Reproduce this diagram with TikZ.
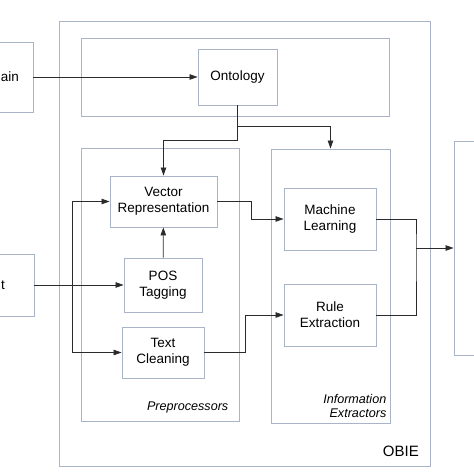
\documentclass[tikz,border=0pt]{standalone}
\usepackage{fontspec}
\setsansfont{Liberation Sans}
\usepackage{tikz}
\usetikzlibrary{arrows.meta,calc,positioning}
\definecolor{ObieFrame}{HTML}{A9B5C6}
\definecolor{ObieWire}{HTML}{2B2B2B}

\begin{document}
\begin{tikzpicture}[x=1pt,y=-1pt,
    unit/.style={draw=ObieFrame,line width=.9pt,align=center,inner sep=0pt,
      font=\sffamily\fontsize{13.5}{16}\selectfont},
    frame/.style={draw=ObieFrame,line width=.9pt,inner sep=0pt},
    tag/.style={font=\sffamily\itshape\fontsize{12.6}{14}\selectfont,align=right,inner sep=0pt},
    wire/.style={ObieWire,line width=.75pt},
    arr/.style={wire,-{Triangle[length=8pt,width=5.5pt]}}]
  \useasboundingbox (0,0) rectangle (474,474);
  \clip (0,0) rectangle (474,474);
  % frames
  \node[frame,minimum width=371pt,minimum height=445pt] (obie) at (244.5,243.5) {};
  \node[frame,minimum width=308pt,minimum height=78pt] (ontobox) at (235,77) {};
  \node[frame,minimum width=158pt,minimum height=273pt] (prep) at (160,284.5) {};
  \node[frame,minimum width=119pt,minimum height=274pt] (ie) at (330.5,286) {};
  \node[tag,anchor=east] (preplbl) at (228.5,407) {Preprocessors};
  \node[tag,anchor=east] (ielbl) at (386.5,406) {Information\\Extractors};
  \node[anchor=east,inner sep=0pt,font=\sffamily\fontsize{15}{18}\selectfont] (obielbl) at (419,451) {OBIE};
  % units
  \node[unit,minimum width=93pt,minimum height=70pt] (domain) at (-13.5,77) {};
  \node[anchor=east,inner sep=0pt,font=\sffamily\fontsize{13.5}{16}\selectfont] (domainlbl) at (19,77) {ain};
  \node[unit,minimum width=94pt,minimum height=62pt] (input) at (-13,285) {};
  \node[anchor=east,inner sep=0pt,font=\sffamily\fontsize{13.5}{16}\selectfont] (inputlbl) at (5,285) {t};
  \node[unit,minimum width=80pt,minimum height=214pt] (out) at (494,248) {};
  \node[unit,minimum width=79pt,minimum height=56pt] (onto) at (237.5,77) {Ontology};
  \node[unit,minimum width=107pt,minimum height=51pt] (vec) at (163.5,201.5) {Vector\\Representation};
  \node[unit,minimum width=78pt,minimum height=54pt] (pos) at (163,285) {POS\\Tagging};
  \node[unit,minimum width=82pt,minimum height=51pt] (clean) at (163,352.5) {Text\\Cleaning};
  \node[unit,minimum width=92pt,minimum height=62pt] (ml) at (330,219) {Machine\\Learning};
  \node[unit,minimum width=92pt,minimum height=62pt] (rule) at (330,315) {Rule\\Extraction};
  \coordinate (split) at (72,285);
  \coordinate (join) at (416,248);
  % connectors
  \draw[arr] (domain) -- (onto);
  \draw[arr] (onto.south) -- ++(0,21) -| (ie.north);
  \draw[arr] (onto.south) -- ++(0,35) -| (vec.north);
  \draw[arr] (input) -- (pos);
  \draw[arr] (split) |- (vec.west);
  \draw[arr] (split) |- (clean.west);
  \draw[arr] (pos) -- (vec);
  \draw[arr] (vec.east) -- ++(34,0) |- (ml.west);
  \draw[arr] (clean.east) -- ++(41,0) |- (rule.west);
  \draw[wire] (ml.east) -| (join) |- (rule.east);
  \draw[arr] (join) -- (out.west);
\end{tikzpicture}
\end{document}
